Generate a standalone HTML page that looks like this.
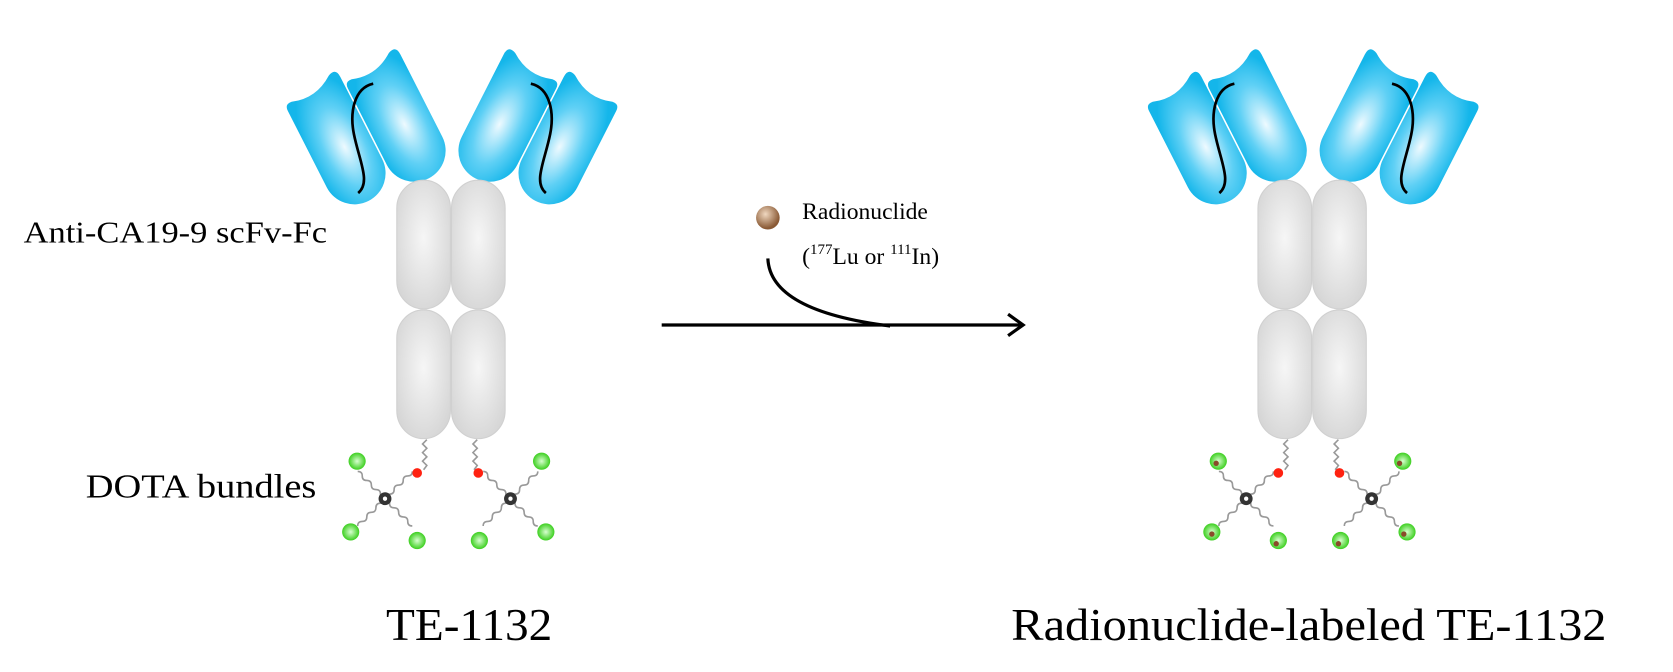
<!DOCTYPE html>
<html><head><meta charset="utf-8"><style>
html,body{margin:0;padding:0;background:#fff;width:1673px;height:672px;overflow:hidden}
svg{display:block}
text{font-family:"Liberation Serif",serif;fill:#000}
</style></head><body>
<svg width="1673" height="672" viewBox="0 0 1560 626.6" xmlns="http://www.w3.org/2000/svg">
<defs>
<radialGradient id="blue" cx="0.55" cy="0.55" r="0.6">
<stop offset="0" stop-color="#eefaff"/><stop offset="0.55" stop-color="#5fd0f5"/><stop offset="1" stop-color="#14b6ea"/>
</radialGradient>
<radialGradient id="gray" cx="0.5" cy="0.45" r="0.6">
<stop offset="0" stop-color="#f6f6f6"/><stop offset="1" stop-color="#d6d6d6"/>
</radialGradient>
<radialGradient id="grn" cx="0.5" cy="0.5" r="0.5">
<stop offset="0" stop-color="#d8ffd0"/><stop offset="1" stop-color="#3ccf1f"/>
</radialGradient>
<radialGradient id="brn" cx="0.4" cy="0.35" r="0.6">
<stop offset="0" stop-color="#f0d8c0"/><stop offset="1" stop-color="#8a5a35"/>
</radialGradient>
<path id="dom" d="M-29,-48 Q-29,-55 -22,-54 Q0,-46 20,-60 Q29,-64 29,-54 L29,32 A29 29 0 0 1 -29,32 Z" fill="url(#blue)"/>
<path id="pill" d="M0,26 A25 26 0 0 1 50,26 L50,94 A25 26 0 0 1 0,94 Z" fill="url(#gray)" stroke="#d0d0d0" stroke-width="1"/>
<g id="fab">
<line x1="384" y1="156" x2="393" y2="170" stroke="#777" stroke-width="3"/>
<use href="#dom" transform="translate(316,133) rotate(-27)"/>
<use href="#dom" transform="translate(372,112) rotate(-27)"/>
<path d="M348,78 C330,82 326,105 330,125 C335,150 346,170 334,180" fill="none" stroke="#000" stroke-width="2.5"/>
</g>
<g id="wig"><path d="M0,0 q3,-3 6,0 t6,0 t6,0 t6,0 t6,0 t6,0" fill="none" stroke="#999" stroke-width="1.5"/></g>
<g id="ab">
<use href="#fab"/>
<use href="#fab" transform="translate(843,0) scale(-1,1)"/>
<use href="#pill" transform="translate(370,168)"/>
<use href="#pill" transform="translate(421,168)"/>
<use href="#pill" transform="translate(370,289)"/>
<use href="#pill" transform="translate(421,289)"/>
<path d="M398,410 l-4,4 4,4 -4,4 4,4 -4,4 4,4 -3,4" fill="none" stroke="#999" stroke-width="1.5"/>
<path d="M445,410 l-4,4 4,4 -4,4 4,4 -4,4 4,4 -3,4" fill="none" stroke="#999" stroke-width="1.5"/>
<use href="#wig" transform="translate(359,465) rotate(-45)"/>
<use href="#wig" transform="translate(359,465) rotate(-135)"/>
<use href="#wig" transform="translate(359,465) rotate(135)"/>
<use href="#wig" transform="translate(359,465) rotate(45)"/>
<circle cx="389" cy="441" r="4.5" fill="#f21"/>
<circle cx="359" cy="465" r="6" fill="#333"/><circle cx="359" cy="465" r="2" fill="#fff"/>
<circle cx="333" cy="430" r="8" fill="url(#grn)"/>
<circle cx="327" cy="496" r="8" fill="url(#grn)"/>
<circle cx="389" cy="504" r="8" fill="url(#grn)"/>
<use href="#wig" transform="translate(476,465) rotate(-45)"/>
<use href="#wig" transform="translate(476,465) rotate(-135)"/>
<use href="#wig" transform="translate(476,465) rotate(135)"/>
<use href="#wig" transform="translate(476,465) rotate(45)"/>
<circle cx="446" cy="441" r="4.5" fill="#f21"/>
<circle cx="476" cy="465" r="6" fill="#333"/><circle cx="476" cy="465" r="2" fill="#fff"/>
<circle cx="505" cy="430" r="8" fill="url(#grn)"/>
<circle cx="509" cy="496" r="8" fill="url(#grn)"/>
<circle cx="447" cy="504" r="8" fill="url(#grn)"/>
</g>
</defs>
<use href="#ab"/>
<use href="#ab" transform="translate(803,0)"/>
<g fill="#8a4a2a">
<circle cx="1134" cy="432" r="2.5"/><circle cx="1130" cy="498" r="2.5"/><circle cx="1190" cy="507" r="2.5"/>
<circle cx="1305" cy="432" r="2.5"/><circle cx="1309" cy="498" r="2.5"/><circle cx="1248" cy="507" r="2.5"/>
</g>
<line x1="617" y1="303" x2="952" y2="303" stroke="#000" stroke-width="3"/>
<path d="M940,293 L954,303 L940,313" fill="none" stroke="#000" stroke-width="3"/>
<path d="M716,241 Q718,290 830,304" fill="none" stroke="#000" stroke-width="3"/>
<circle cx="716" cy="203" r="11" fill="url(#brn)"/>
<text x="748" y="204" font-size="22">Radionuclide</text>
<text x="748" y="246" font-size="22">(<tspan font-size="14" dy="-9">177</tspan><tspan dy="9">Lu or </tspan><tspan font-size="14" dy="-9">111</tspan><tspan dy="9">In)</tspan></text>
<text x="22" y="226" font-size="29" textLength="283" lengthAdjust="spacingAndGlyphs">Anti-CA19-9 scFv-Fc</text>
<text x="80" y="464" font-size="32" textLength="215" lengthAdjust="spacingAndGlyphs">DOTA bundles</text>
<text x="360" y="597" font-size="42" textLength="155" lengthAdjust="spacingAndGlyphs">TE-1132</text>
<text x="943" y="597" font-size="42" textLength="555" lengthAdjust="spacingAndGlyphs">Radionuclide-labeled TE-1132</text>
</svg>
</body></html>
